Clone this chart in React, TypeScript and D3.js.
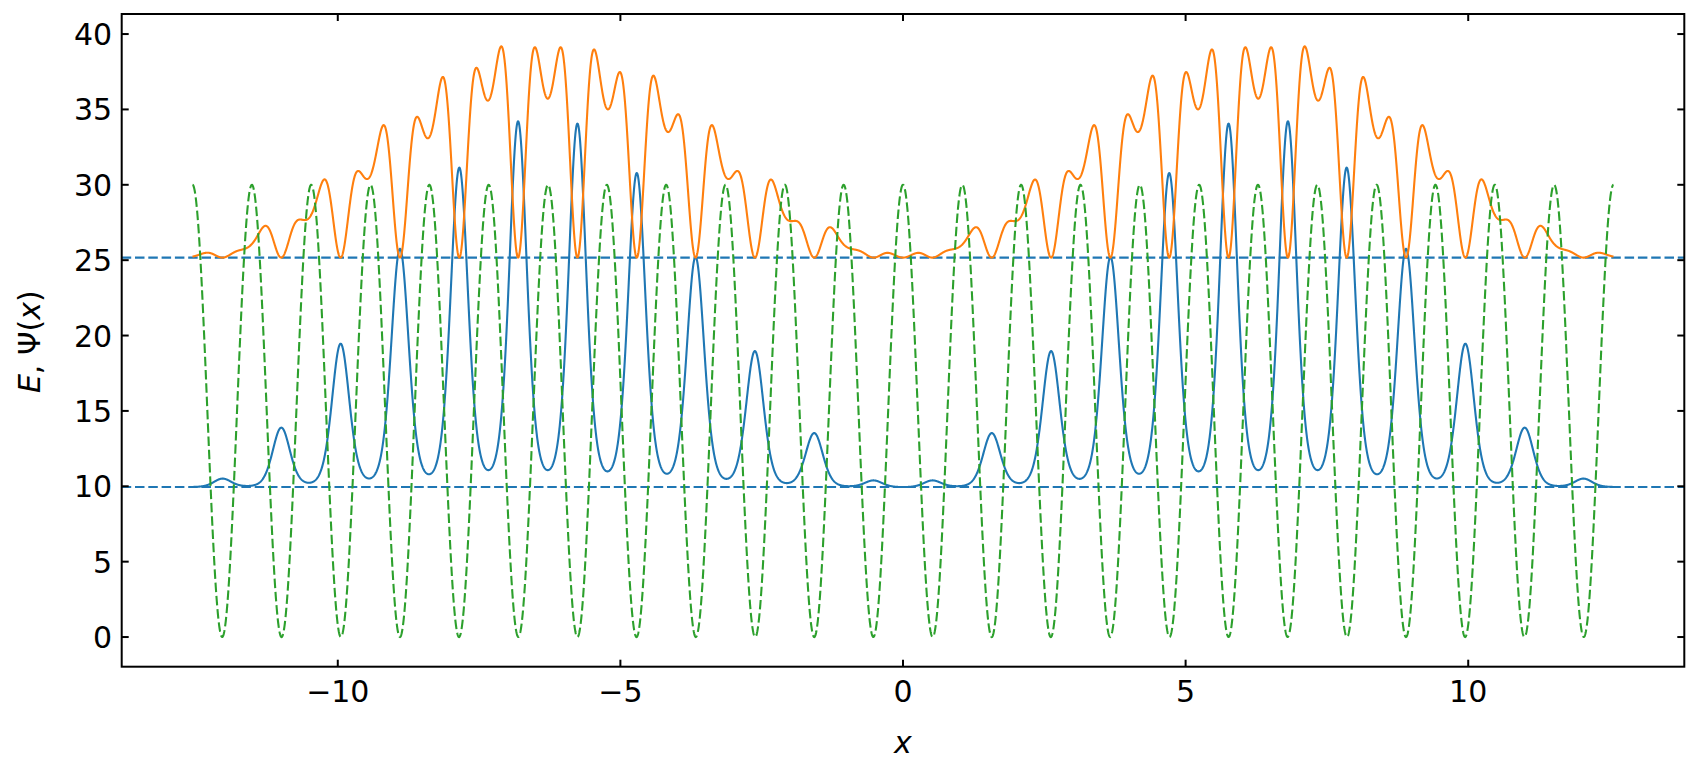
import React from "react";
import * as d3 from "d3";

// ---------------- data ----------------
const X_TICKS = [-10, -5, 0, 5, 10];
const Y_TICKS = [0, 5, 10, 15, 20, 25, 30, 35, 40];

// positions of the potential barrier tops (V = 30) and well bottoms (V = 0)
const barrierX = [
  -12.57, -11.52, -10.47, -9.42, -8.38, -7.33, -6.28, -5.24, -4.19, -3.14, -2.09, -1.05, 0,
  1.05, 2.09, 3.14, 4.19, 5.24, 6.28, 7.33, 8.38, 9.42, 10.47, 11.52, 12.57,
];
const barrierTop = 30;
const wellBottom = 0;

// well centres
const wellX = [
  -12.04, -11.0, -9.95, -8.9, -7.85, -6.81, -5.76, -4.71, -3.67, -2.62, -1.57, -0.52,
  0.52, 1.57, 2.62, 3.67, 4.71, 5.76, 6.81, 7.85, 8.9, 9.95, 11.0, 12.04,
];

// energy levels (dashed lines)
const energies = [9.95, 25.17];

// blue curve: height of the peak in each well, and the sign of the amplitude
const groundPeak = [
  10.51, 13.89, 19.46, 25.76, 31.14, 34.21, 34.06, 30.78, 25.21, 18.97, 13.53, 10.39,
  10.39, 13.53, 18.97, 25.21, 30.78, 34.06, 34.21, 31.14, 25.76, 19.46, 13.89, 10.51,
];
const groundSign = [
  1, 1, 1, 1, 1, 1, 1, 1, 1, 1, 1, 1,
  -1, -1, -1, -1, -1, -1, -1, -1, -1, -1, -1, -1,
];

// orange curve: signed lobe amplitude in each well
const excitedAmp = [
  0.57, -1.41, 2.18, -2.81, 3.26, -3.48, 3.48, -3.25, 2.81, -2.18, 1.38, -0.6,
  -0.6, 1.38, -2.18, 2.81, -3.25, 3.48, -3.48, 3.26, -2.81, 2.18, -1.41, 0.57,
];

// ---------------- layout ----------------
const W = 1698;
const H = 778;
const LEFT = 121.7;
const RIGHT = 1684.3;
const TOP = 14;
const BOTTOM = 666.7;
const X_DOMAIN: [number, number] = [-13.823, 13.823];
const Y_DOMAIN: [number, number] = [-1.968, 41.33];

const C0 = "#1f77b4";
const C1 = "#ff7f0e";
const C2 = "#2ca02c";
const FONT = "'DejaVu Sans', sans-serif";
const LW = 2.1;
const DASH = "9.5,3.8";

// well profile shapes
function groundShape(u: number) {
  const a = 0.345;
  const c = 2.71;
  return Math.exp(-c * (Math.sqrt(1 + (u / a) * (u / a)) - 1));
}
function excitedShape(u: number) {
  const a = 0.2665;
  const r = u / a;
  return r * Math.exp(-(r * r - 1) / 2);
}

function potentialAt(x: number) {
  let i = 0;
  while (i < barrierX.length - 2 && x > barrierX[i + 1]) i++;
  const t = (x - barrierX[i]) / (barrierX[i + 1] - barrierX[i]);
  return wellBottom + ((barrierTop - wellBottom) * (1 + Math.cos(2 * Math.PI * t))) / 2;
}

// amplitudes of the blue curve so that the drawn peak heights equal groundPeak
function groundAmplitudes() {
  const target = groundPeak.map((p, k) => groundSign[k] * Math.sqrt(Math.max(0, p - energies[0])));
  let amp = target.slice();
  for (let it = 0; it < 6; it++) {
    amp = target.map((t, k) => {
      let other = 0;
      for (let j = 0; j < wellX.length; j++) {
        if (j !== k) other += amp[j] * groundShape(wellX[k] - wellX[j]);
      }
      return t - other;
    });
  }
  return amp;
}

export default function App() {
  const xScale = d3.scaleLinear().domain(X_DOMAIN).range([LEFT, RIGHT]);
  const yScale = d3.scaleLinear().domain(Y_DOMAIN).range([BOTTOM, TOP]);

  const gAmp = groundAmplitudes();
  const groundAt = (x: number) => {
    let psi = 0;
    for (let k = 0; k < wellX.length; k++) psi += gAmp[k] * groundShape(x - wellX[k]);
    return energies[0] + psi * psi;
  };
  const excitedAt = (x: number) => {
    let psi = 0;
    for (let k = 0; k < wellX.length; k++) psi += excitedAmp[k] * excitedShape(x - wellX[k]);
    return energies[1] + psi * psi;
  };

  const x0 = barrierX[0];
  const x1 = barrierX[barrierX.length - 1];
  const N = 5000;
  const xs = d3.range(N + 1).map((i) => x0 + ((x1 - x0) * i) / N);

  const line = d3
    .line<[number, number]>()
    .x((d) => xScale(d[0]))
    .y((d) => yScale(d[1]));

  const vPath = line(xs.map((x) => [x, potentialAt(x)] as [number, number])) || "";
  const gPath = line(xs.map((x) => [x, groundAt(x)] as [number, number])) || "";
  const ePath = line(xs.map((x) => [x, excitedAt(x)] as [number, number])) || "";

  const tickLen = 7;
  const fmt = (v: number) => (v < 0 ? "\u2212" + Math.abs(v) : String(v));

  return (
    <svg
      width={W}
      height={H}
      viewBox={`0 0 ${W} ${H}`}
      style={{ position: "absolute", left: 0, top: 0, background: "#fff" }}
    >
      <defs>
        <clipPath id="plotclip">
          <rect x={LEFT} y={TOP} width={RIGHT - LEFT} height={BOTTOM - TOP} />
        </clipPath>
      </defs>
      <rect x={0} y={0} width={W} height={H} fill="#fff" />
      <g clipPath="url(#plotclip)">
        {energies.map((e, i) => (
          <line
            key={i}
            x1={LEFT}
            x2={RIGHT}
            y1={yScale(e)}
            y2={yScale(e)}
            stroke={C0}
            strokeWidth={LW}
            strokeDasharray={DASH}
          />
        ))}
        <path d={gPath} fill="none" stroke={C0} strokeWidth={LW} strokeLinejoin="round" />
        <path d={ePath} fill="none" stroke={C1} strokeWidth={LW} strokeLinejoin="round" />
        <path d={vPath} fill="none" stroke={C2} strokeWidth={LW} strokeDasharray={DASH} />
      </g>

      {/* ticks */}
      {X_TICKS.map((t) => (
        <g key={"x" + t}>
          <line x1={xScale(t)} x2={xScale(t)} y1={BOTTOM} y2={BOTTOM - tickLen} stroke="#000" strokeWidth={2} />
          <line x1={xScale(t)} x2={xScale(t)} y1={TOP} y2={TOP + tickLen} stroke="#000" strokeWidth={2} />
          <text
            x={xScale(t)}
            y={702}
            textAnchor="middle"
            fontFamily={FONT}
            fontSize={30}
            fill="#000"
          >
            {fmt(t)}
          </text>
        </g>
      ))}
      {Y_TICKS.map((t) => (
        <g key={"y" + t}>
          <line x1={LEFT} x2={LEFT + tickLen} y1={yScale(t)} y2={yScale(t)} stroke="#000" strokeWidth={2} />
          <line x1={RIGHT} x2={RIGHT - tickLen} y1={yScale(t)} y2={yScale(t)} stroke="#000" strokeWidth={2} />
          <text
            x={LEFT - 9.5}
            y={yScale(t) + 11}
            textAnchor="end"
            fontFamily={FONT}
            fontSize={30}
            fill="#000"
          >
            {fmt(t)}
          </text>
        </g>
      ))}

      {/* frame */}
      <rect
        x={LEFT}
        y={TOP}
        width={RIGHT - LEFT}
        height={BOTTOM - TOP}
        fill="none"
        stroke="#000"
        strokeWidth={2}
      />

      {/* axis labels */}
      <text x={(LEFT + RIGHT) / 2} y={753} textAnchor="middle" fontFamily={FONT} fontSize={30} fill="#000">
        <tspan fontStyle="italic">x</tspan>
      </text>
      <text
        transform={`translate(40, 341.7) rotate(-90)`}
        textAnchor="middle"
        fontFamily={FONT}
        fontSize={30}
        fill="#000"
      >
        <tspan fontStyle="italic">E</tspan>
        <tspan>, Ψ(</tspan>
        <tspan fontStyle="italic">x</tspan>
        <tspan>)</tspan>
      </text>
    </svg>
  );
}
